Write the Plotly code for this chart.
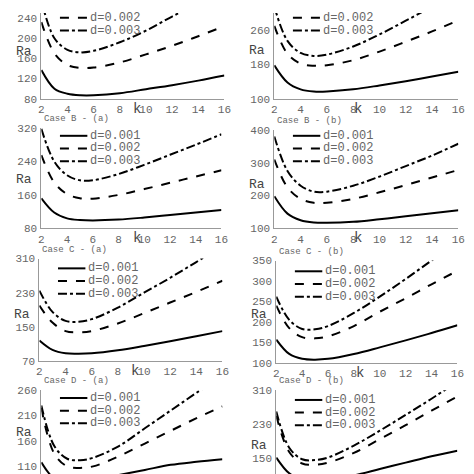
import plotly.graph_objects as go

k_pts = [2, 3, 4, 5, 6, 8, 10, 12, 14, 16]

# Case A (a)
A_a_1 = [137, 100, 90, 87, 87, 91, 99, 107, 116, 126]
A_a_2 = [232, 170, 147, 141, 142, 152, 168, 185, 204, 224]
A_a_3 = [275, 200, 177, 172, 175, 192, 215, 243, 270, 300]
# Case A (b)
A_b_1 = [178, 138, 122, 117, 117, 122, 131, 141, 152, 163]
A_b_2 = [270, 205, 182, 177, 178, 190, 210, 233, 257, 283]
A_b_3 = [315, 235, 207, 200, 203, 222, 250, 282, 315, 350]
# Case B (a)
B_a_1 = [152, 118, 104, 100, 99, 101, 106, 112, 118, 124]
B_a_2 = [255, 190, 162, 152, 151, 160, 174, 189, 204, 219]
B_a_3 = [318, 240, 207, 195, 195, 210, 232, 256, 280, 305]
# Case B (b)
B_b_1 = [198, 145, 125, 118, 117, 120, 128, 137, 146, 155]
B_b_2 = [310, 225, 190, 178, 178, 190, 210, 232, 255, 278]
B_b_3 = [380, 275, 230, 212, 212, 230, 258, 290, 322, 358]
# Case C (a)
C_a_1 = [118, 96, 88, 87, 88, 95, 105, 116, 128, 140]
C_a_2 = [200, 160, 140, 137, 140, 158, 182, 207, 232, 258]
C_a_3 = [235, 185, 164, 162, 168, 195, 230, 265, 302, 340]
# Case C (b)
C_b_1 = [157, 122, 110, 108, 110, 122, 138, 155, 173, 192]
C_b_2 = [240, 185, 163, 160, 165, 190, 225, 258, 292, 325]
C_b_3 = [262, 205, 183, 182, 190, 222, 262, 305, 350, 395]
# Case D (a)
D_a_1 = [118, 86, 80, 80, 82, 93, 103, 113, 119, 124]
D_a_2 = [225, 135, 110, 107, 110, 130, 155, 180, 205, 228]
D_a_3 = [230, 150, 125, 122, 127, 150, 185, 220, 255, 290]
# Case D (b)
D_b_1 = [152, 115, 100, 98, 100, 110, 125, 140, 155, 168]
D_b_2 = [250, 165, 138, 135, 140, 163, 195, 228, 262, 295]
D_b_3 = [260, 175, 148, 146, 152, 180, 215, 252, 290, 330]

legend_labels = ["d=0.001", "d=0.002", "d=0.003"]
dashes = ["solid", "dash", "dashdot"]

W = 474
def px(v):
    return v / W
def py(v):
    return 1 - v / W

FONT = "Liberation Mono"
GREY = "#666"

# (curves, x-domain px, y-domain px (top, bottom), y-range, ticks, title, legend top px, Ra y px, show x)
panels = [
    ([A_a_1, A_a_2, A_a_3], (31, 218), (0, 88), (80, 250), [80, 120, 160, 200, 240], None, -8, 40, True),
    ([A_b_1, A_b_2, A_b_3], (269, 457), (0, 88), (100, 300), [100, 180, 260], None, -8, 38, True),
    ([B_a_1, B_a_2, B_a_3], (31, 215), (118, 221), (80, 320), [80, 160, 240, 320], "Case B - (a)", 126, 171, True),
    ([B_b_1, B_b_2, B_b_3], (269, 457), (120, 221), (100, 400), [100, 200, 300, 400], "Case B - (b)", 126, 176, True),
    ([C_a_1, C_a_2, C_a_3], (29, 216), (252, 357), (70, 310), [70, 150, 230, 310], "Case C - (a)", 262, 309, True),
    ([C_b_1, C_b_2, C_b_3], (271, 456), (254, 359), (100, 350), [100, 150, 200, 250, 300, 350], "Case C - (b)", 265, 309, True),
    ([D_a_1, D_a_2, D_a_3], (31, 216), (387, 474), (93, 260), [110, 160, 210, 260], "Case D - (a)", 395, 430, False),
    ([D_b_1, D_b_2, D_b_3], (271, 456), (387, 474), (111, 310), [150, 230, 310], "Case D - (b)", 397, 444, False),
]

fig = go.Figure()
layout = dict(width=W, height=W, margin=dict(l=0, r=0, t=0, b=0),
              plot_bgcolor="white", paper_bgcolor="white", showlegend=False)
shapes, annots = [], []

for i, (curves, xd, yd, yr, yt, title, leg_top, ra_y, showx) in enumerate(panels):
    n = "" if i == 0 else str(i + 1)
    for c, dsh in zip(curves, dashes):
        fig.add_trace(go.Scatter(x=k_pts, y=c, mode="lines", line_shape="spline",
                                 line=dict(color="black", width=2, dash=dsh),
                                 xaxis="x" + n, yaxis="y" + n))
    layout["xaxis" + n] = dict(domain=[px(xd[0]), px(xd[1])], range=[2, 16], anchor="y" + n,
                               tickvals=list(range(2, 17, 2)) if showx else [],
                               showline=True, linecolor="#999", ticks="", showgrid=False,
                               zeroline=False, tickfont=dict(family=FONT, size=11, color=GREY))
    layout["yaxis" + n] = dict(domain=[py(yd[1]), py(yd[0])], range=list(yr), anchor="x" + n,
                               tickvals=yt, showline=True, linecolor="#999", ticks="",
                               showgrid=False, zeroline=False, ticklabelstandoff=1,
                               tickfont=dict(family=FONT, size=11, color=GREY))
    annots.append(dict(x=px(xd[0] - 28), y=py(ra_y), xref="paper", yref="paper", text="Ra",
                       showarrow=False, xanchor="left", yanchor="middle",
                       font=dict(family=FONT, size=13, color="#444")))
    if showx:
        annots.append(dict(x=px(xd[0] + 92), y=py(yd[1] + 10), xref="paper", yref="paper",
                           text="k", showarrow=False, yanchor="middle",
                           font=dict(family=FONT, size=14, color="#444")))
    if title:
        annots.append(dict(x=px(xd[0] + 1), y=py(yd[0] - 2), xref="paper", yref="paper",
                           text=title, showarrow=False, xanchor="left", yanchor="bottom",
                           font=dict(family=FONT, size=9, color=GREY)))
    for j, (lab, dsh) in enumerate(zip(legend_labels, dashes)):
        yy = leg_top + j * 13
        if yy < 0:
            continue
        shapes.append(dict(type="line", xref="paper", yref="paper", x0=px(xd[0] + 19),
                           x1=px(xd[0] + 47), y0=py(yy), y1=py(yy),
                           line=dict(color="black", width=2, dash=dsh)))
        annots.append(dict(x=px(xd[0] + 48), y=py(yy), xref="paper", yref="paper", text=lab,
                           showarrow=False, xanchor="left", yanchor="middle",
                           font=dict(family=FONT, size=12, color=GREY)))

layout["shapes"] = shapes
layout["annotations"] = annots
fig.update_layout(**layout)
fig.write_html("out.html")
